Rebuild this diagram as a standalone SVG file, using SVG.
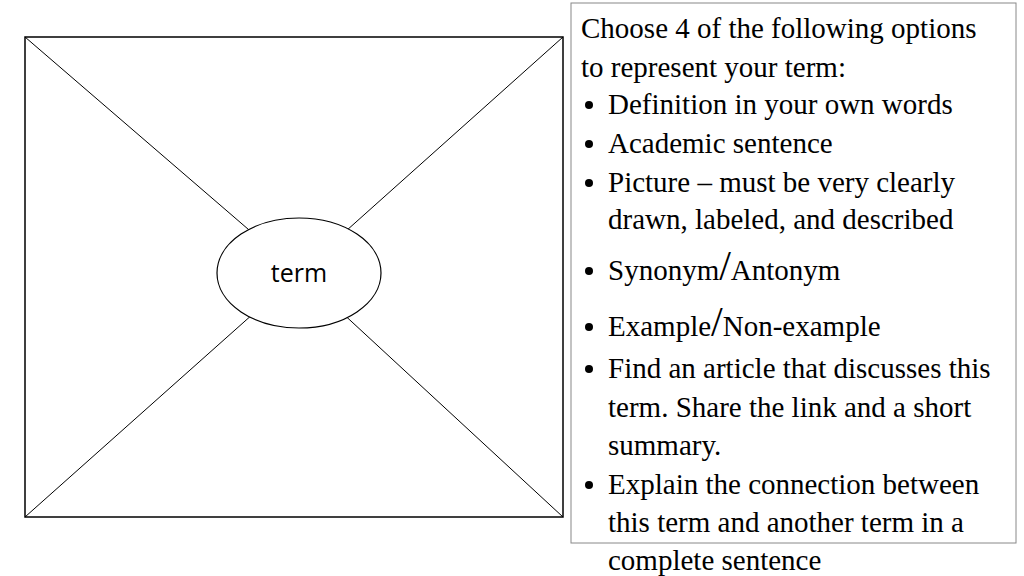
<svg xmlns="http://www.w3.org/2000/svg" width="1024" height="576" viewBox="0 0 1024 576">
<style>
.t{font-family:"Liberation Serif",serif;font-size:29px;fill:#000}
.l{stroke:#000;stroke-width:1}
.b{fill:#000}
</style>
<rect width="1024" height="576" fill="#fff"/>
<g id="connectors">
<line class="l" x1="25" y1="37" x2="299" y2="273"/>
<line class="l" x1="563" y1="37" x2="299" y2="273"/>
<line class="l" x1="25" y1="517" x2="299" y2="273"/>
<line class="l" x1="563" y1="517" x2="299" y2="273"/>
</g>
<g id="frame"><rect x="25" y="37" width="538" height="480" fill="none" stroke="#000" stroke-width="1.5"/></g>
<g id="term">
<ellipse cx="299" cy="273" rx="82" ry="55" fill="#fff" stroke="#000" stroke-width="1.2"/>
<text x="299" y="282" text-anchor="middle" style="font-family:'Open Sans',sans-serif;font-size:25px">term</text>
</g>
<g id="instructions">
<rect x="571" y="3" width="445" height="540" fill="#fff" stroke="#888" stroke-width="1"/>
<text class="t" x="581" y="38">Choose 4 of the following options</text>
<text class="t" x="581" y="77">to represent your term:</text>
<g>
<circle class="b" cx="589" cy="105" r="4"/>
<circle class="b" cx="589" cy="144" r="4"/>
<circle class="b" cx="589" cy="183" r="4"/>
<circle class="b" cx="589" cy="271" r="4"/>
<circle class="b" cx="589" cy="327" r="4"/>
<circle class="b" cx="589" cy="369" r="4"/>
<circle class="b" cx="589" cy="485" r="4"/>
</g>
<g class="t">
<text x="608" y="114">Definition in your own words</text>
<text x="608" y="153">Academic sentence</text>
<text x="608" y="192">Picture – must be very clearly</text>
<text x="608" y="229">drawn, labeled, and described</text>
<text x="608" y="280">Synonym<tspan font-size="42">/</tspan>Antonym</text>
<text x="608" y="336">Example<tspan font-size="42">/</tspan>Non-example</text>
<text x="608" y="378">Find an article that discusses this</text>
<text x="608" y="417">term. Share the link and a short</text>
<text x="608" y="455">summary.</text>
<text x="608" y="494">Explain the connection between</text>
<text x="608" y="532">this term and another term in a</text>
<text x="608" y="570">complete sentence</text>
</g>
</g>
</svg>
